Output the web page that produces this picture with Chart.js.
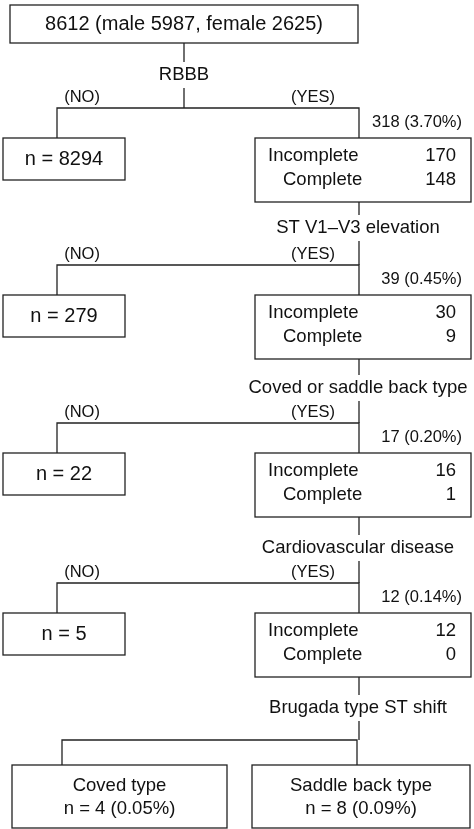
<!DOCTYPE html>
<html><head><meta charset="utf-8">
<script src="https://cdn.jsdelivr.net/npm/chart.js"></script>
<style>html,body{margin:0;padding:0;background:#fff}canvas{display:block}</style>
</head><body><canvas id="c" width="474" height="829"></canvas>
<script>
const rootLabel = "8612 (male 5987, female 2625)";
const criteria = ["RBBB", "ST V1\u2013V3 elevation", "Coved or saddle back type", "Cardiovascular disease"];
const yesLabels = ["318 (3.70%)", "39 (0.45%)", "17 (0.20%)", "12 (0.14%)"];
const noCounts = ["n = 8294", "n = 279", "n = 22", "n = 5"];
const incompleteCounts = [170, 30, 16, 12];
const completeCounts = [148, 9, 1, 0];
const finalCriterion = "Brugada type ST shift";
const finalTitles = ["Coved type", "Saddle back type"];
const finalCounts = ["n = 4 (0.05%)", "n = 8 (0.09%)"];

const stageLabelY = [75, 228, 388, 548];
const boxTop = [138, 295, 453, 613];
const FONT = '18.5px "Liberation Sans", Arial, sans-serif';
const BIG = '20px "Liberation Sans", Arial, sans-serif';
const SMALL = '16.5px "Liberation Sans", Arial, sans-serif';

const flowPlugin = {
  id: 'flow',
  afterDraw(chart) {
    const c = chart.ctx, xs = chart.scales.x, ys = chart.scales.y;
    const X = v => xs.getPixelForValue(v), Y = v => ys.getPixelForValue(v);
    c.save();
    c.strokeStyle = '#222'; c.lineWidth = 1.3; c.fillStyle = '#111';
    c.textBaseline = 'middle';
    const rect = (x1, y1, x2, y2) => c.strokeRect(X(x1), Y(y1), X(x2) - X(x1), Y(y2) - Y(y1));
    const line = pts => { c.beginPath(); pts.forEach((p, i) => i ? c.lineTo(X(p[0]), Y(p[1])) : c.moveTo(X(p[0]), Y(p[1]))); c.stroke(); };
    const text = (t, x, y, al, f) => { c.font = f || FONT; c.textAlign = al || 'center'; c.fillText(t, X(x), Y(y)); };

    rect(10, 5, 358, 43);
    text(rootLabel, 184, 24, 'center', BIG);
    line([[184, 43], [184, 62]]);

    criteria.forEach((lab, i) => {
      const bt = boxTop[i], hy = bt - 30;
      const lx = i === 0 ? 184 : 359;
      text(lab, i === 0 ? 184 : 358, stageLabelY[i]);
      line([[lx, stageLabelY[i] + 13], [lx, hy]]);
      line([[57, bt], [57, hy], [359, hy], [359, bt]]);
      text('(NO)', 82, hy - 11, 'center', SMALL);
      text('(YES)', 313, hy - 11, 'center', SMALL);
      text(yesLabels[i], 462, bt - 16, 'right', SMALL);
      rect(3, bt, 125, bt + 42);
      text(noCounts[i], 64, bt + 21, 'center', BIG);
      rect(255, bt, 471, bt + 64);
      text('Incomplete', 268, bt + 18, 'left');
      text(String(incompleteCounts[i]), 456, bt + 18, 'right');
      text('Complete', 283, bt + 42, 'left');
      text(String(completeCounts[i]), 456, bt + 42, 'right');
      const nextY = i < criteria.length - 1 ? stageLabelY[i + 1] - 13 : 695;
      line([[359, bt + 64], [359, nextY]]);
    });

    text(finalCriterion, 358, 708);
    line([[359, 721], [359, 740]]);
    line([[62, 765], [62, 740], [357, 740], [357, 765]]);
    const fb = [[12, 227], [252, 470]];
    fb.forEach((b, i) => {
      rect(b[0], 765, b[1], 828);
      text(finalTitles[i], (b[0] + b[1]) / 2, 786);
      text(finalCounts[i], (b[0] + b[1]) / 2, 809);
    });
    c.restore();
  }
};

new Chart(document.getElementById('c'), {
  type: 'scatter',
  data: { datasets: [{ data: [], pointRadius: 0 }] },
  options: {
    responsive: false, animation: false,
    layout: { padding: 0 },
    plugins: { legend: { display: false }, tooltip: { enabled: false } },
    scales: {
      x: { type: 'linear', min: 0, max: 474, display: false },
      y: { type: 'linear', min: 0, max: 829, reverse: true, display: false }
    }
  },
  plugins: [flowPlugin]
});
</script></body></html>
